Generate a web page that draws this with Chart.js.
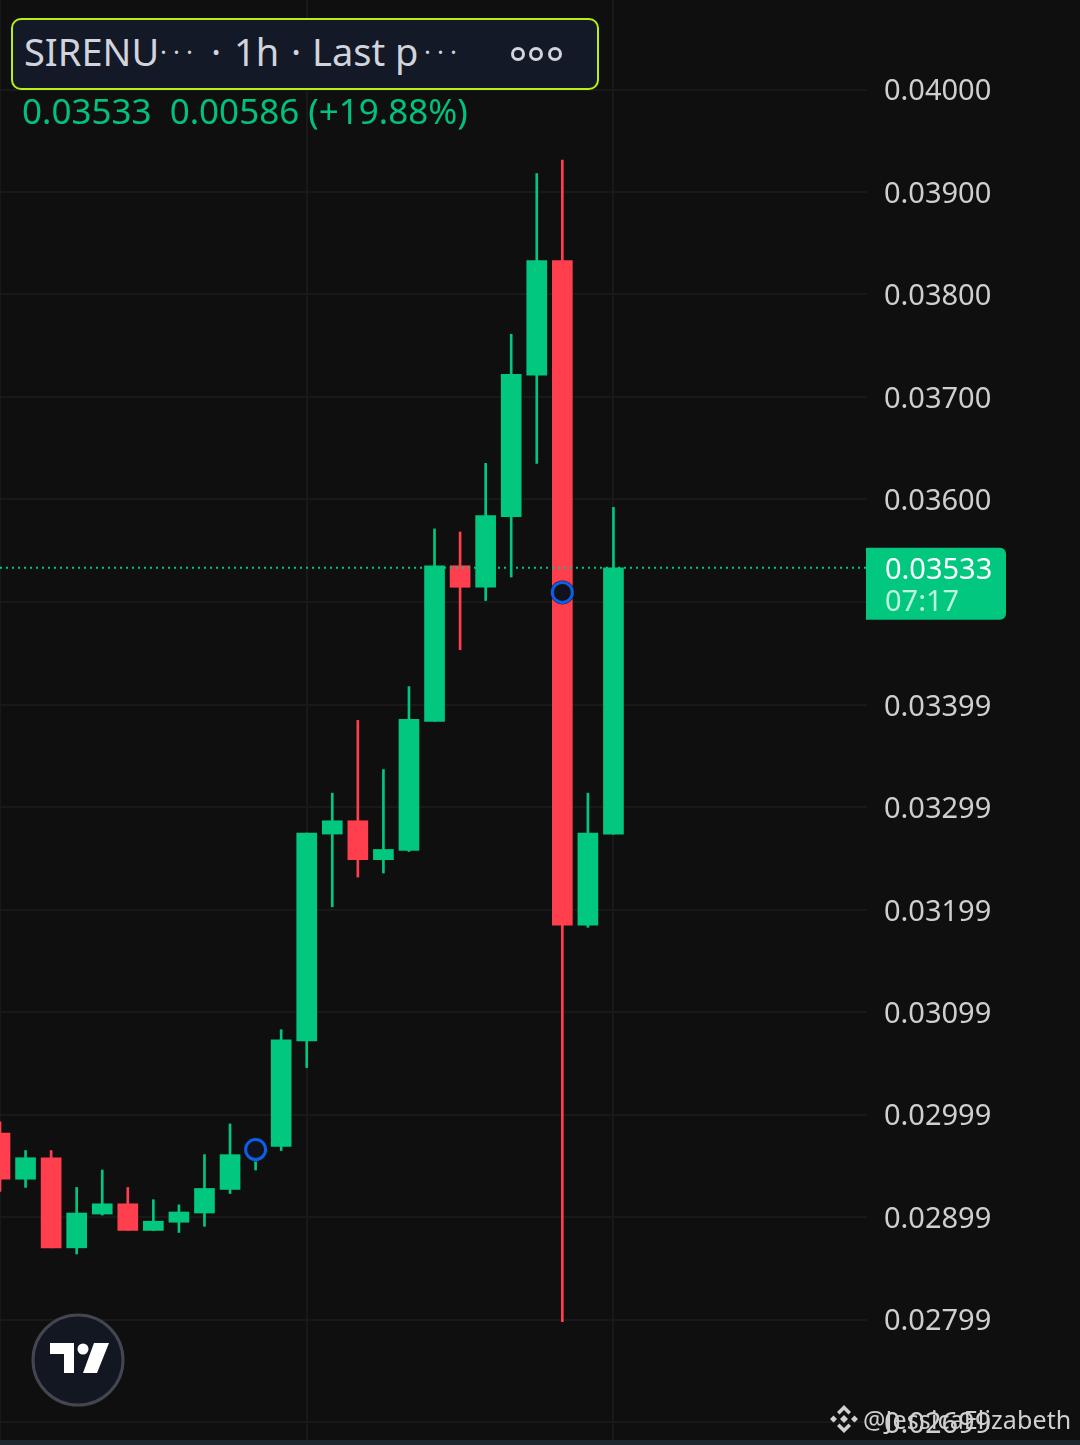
<!DOCTYPE html>
<html lang="en">
<head>
  <meta charset="UTF-8" />
  <title>SIRENUSDT 1h</title>
  <script src="https://cdn.jsdelivr.net/npm/chart.js"></script>
  <style>
    html, body { margin: 0; background: #0f0f0f; }
    body { width: 1080px; height: 1445px; position: relative; overflow: hidden; font-family: "Noto Sans", sans-serif; }
    canvas { position: absolute; left: 0; top: 0; }
    .legend-box { position: absolute; left: 11px; top: 18px; width: 584px; height: 68px; border: 2px solid #b9f014; border-radius: 10px; background: #131926; }
    .legend-box span { position: absolute; top: 5px; font-size: 38px; line-height: 52px; color: #d1d4dc; white-space: nowrap; }
    .legend-box span.more { font-size: 26px; top: 5px; letter-spacing: 6px; }
    .legend-box i { position: absolute; top: 27px; width: 8px; height: 8px; border: 3px solid #d1d4dc; border-radius: 50%; }
    .values { position: absolute; left: 22px; top: 88px; font-size: 35px; line-height: 46px; color: #00c27c; white-space: pre; }
    .logo { position: absolute; left: 31px; top: 1313px; }
    .strip { position: absolute; left: 0; top: 1440px; width: 1080px; height: 5px; background: #1f262d; }
    .mark { position: absolute; left: 830px; top: 1405px; }
    .credit { position: absolute; left: 863px; top: 1400px; font-size: 25px; letter-spacing: 0.12px; line-height: 38px; color: #d0d0d0; white-space: nowrap; }
  </style>
</head>
<body>
  <canvas id="chart" width="1080" height="1445"></canvas>

  <div class="legend-box">
    <span style="left:11px">SIRENU</span><span class="more" style="left:147px">···</span>
    <span style="left:198px">·</span><span style="left:221px">1h</span>
    <span style="left:278px">·</span><span style="left:299px">Last p</span><span class="more" style="left:411px">···</span>
    <i style="left:498px"></i><i style="left:516px"></i><i style="left:535px"></i>
  </div>
  <div class="values">0.03533  0.00586 (+19.88%)</div>

  <svg class="logo" width="94" height="94" viewBox="0 0 94 94">
    <circle cx="47" cy="47" r="45" fill="#131722" stroke="#43464e" stroke-width="3"/>
    <path d="M19 30H43V60H33V41H19Z M63 30H78L66 60H52Z" fill="#fff"/>
    <circle cx="52" cy="36" r="5.5" fill="#fff"/>
  </svg>

  <div class="strip"></div>
  <svg class="mark" width="28" height="28" viewBox="0 0 28 28" fill="#d0d0d0">
    <path d="M14 0l7 7-2.5 2.5L14 5 9.5 9.5 7 7z M14 28l7-7-2.5-2.5L14 23l-4.500-4.500L7 21z M0 14l3.500-3.500L7 14l-3.500 3.500z M21 14l3.500-3.500L28 14l-3.500 3.500z M14 10l4 4-4 4-4-4z"/>
  </svg>
  <div class="credit">@JessicaElizabeth</div>

  <script>
    // prices, oldest candle first
    const candleIndex = [0, 1, 2, 3, 4, 5, 6, 7, 8, 9, 10, 11, 12, 13, 14, 15, 16, 17, 18, 19, 20, 21, 22, 23, 24];
    const opens  = [0.02981, 0.02936, 0.02957, 0.02869, 0.02902, 0.02912, 0.02886, 0.02894, 0.02903, 0.02926, 0.02963, 0.02968, 0.03071, 0.03273, 0.03286, 0.03248, 0.03257, 0.03383, 0.03535, 0.03514, 0.03583, 0.03721, 0.03833, 0.03184, 0.03273];
    const closes = [0.02936, 0.02957, 0.02869, 0.02903, 0.02912, 0.02886, 0.02895, 0.02904, 0.02927, 0.02960, 0.02967, 0.03072, 0.03274, 0.03286, 0.03248, 0.03258, 0.03385, 0.03535, 0.03514, 0.03584, 0.03722, 0.03833, 0.03184, 0.03274, 0.03533];
    const highs  = [0.02992, 0.02964, 0.02964, 0.02928, 0.02945, 0.02928, 0.02916, 0.02911, 0.02960, 0.02990, 0.02972, 0.03082, 0.03274, 0.03313, 0.03384, 0.03336, 0.03417, 0.03571, 0.03568, 0.03635, 0.03761, 0.03918, 0.03931, 0.03313, 0.03592];
    const lows   = [0.02924, 0.02928, 0.02869, 0.02863, 0.02901, 0.02886, 0.02886, 0.02884, 0.02890, 0.02922, 0.02945, 0.02964, 0.03045, 0.03202, 0.03231, 0.03235, 0.03256, 0.03383, 0.03453, 0.03501, 0.03524, 0.03635, 0.02797, 0.03182, 0.03273];

    const tickValues = [0.04, 0.039, 0.038, 0.037, 0.036, 0.035, 0.03399, 0.03299, 0.03199, 0.03099, 0.02999, 0.02899, 0.02799, 0.02699];
    const timeGridAt = [0, 12, 24];

    const markerIndex = [10, 22];
    const markerPrice = [0.02965, 0.03509];

    const lastPrice = 0.03533;
    const countdown = '07:17';

    const GREEN = '#02c77e';
    const RED = '#ff3f4d';
    const GRID = '#191919';
    const BLUE = '#0b5fe8';

    const candleColor = opens.map((o, i) => closes[i] >= o ? GREEN : RED);

    // price tag sits on the axis at the last price
    const priceTag = {
      id: 'priceTag',
      afterDraw(chart) {
        const c = chart.ctx;
        const y = chart.scales.y.getPixelForValue(lastPrice);
        const left = chart.chartArea.right - 1;
        c.save();
        c.fillStyle = GREEN;
        c.beginPath();
        c.roundRect(left, y - 20, 140, 72, [0, 6, 6, 0]);
        c.fill();
        c.textBaseline = 'middle';
        c.textAlign = 'left';
        c.font = '29px "Noto Sans"';
        c.fillStyle = '#ffffff';
        c.fillText(lastPrice.toFixed(5), left + 19, y + 3);
        c.fillStyle = '#bdf2dc';
        c.fillText(countdown, left + 19, y + 35);
        c.restore();
      }
    };

    new Chart(document.getElementById('chart'), {
      type: 'bar',
      data: {
        datasets: [
          {
            label: 'wick',
            order: 4,
            grouped: false,
            barThickness: 2,
            backgroundColor: candleColor,
            data: candleIndex.map(i => ({ x: i, y: [lows[i], highs[i]] }))
          },
          {
            label: 'body',
            order: 3,
            grouped: false,
            barThickness: 20,
            backgroundColor: candleColor,
            data: candleIndex.map(i => ({ x: i, y: [opens[i], closes[i]] }))
          },
          {
            type: 'line',
            label: 'last',
            order: 2,
            borderColor: GREEN,
            borderWidth: 2,
            borderDash: [2, 4],
            pointRadius: 0,
            data: [{ x: 0, y: lastPrice }, { x: 34, y: lastPrice }]
          },
          {
            type: 'scatter',
            label: 'halo',
            order: 1,
            pointRadius: 12,
            pointBackgroundColor: '#10131c',
            pointBorderWidth: 0,
            data: markerIndex.map((x, i) => ({ x, y: markerPrice[i] }))
          },
          {
            type: 'scatter',
            label: 'marker',
            order: 0,
            pointRadius: 10,
            pointBackgroundColor: '#10131c',
            pointBorderColor: BLUE,
            pointBorderWidth: 3,
            data: markerIndex.map((x, i) => ({ x, y: markerPrice[i] }))
          }
        ]
      },
      options: {
        responsive: false,
        animation: false,
        layout: { padding: 0, autoPadding: false },
        plugins: { legend: { display: false }, tooltip: { enabled: false } },
        scales: {
          x: {
            type: 'linear',
            offset: false,
            min: 0,
            max: 33.92,
            afterBuildTicks: s => { s.ticks = timeGridAt.map(value => ({ value })); },
            afterFit: s => { s.height = 0; s.paddingLeft = 0; s.paddingRight = 0; },
            ticks: { display: false },
            border: { display: false },
            grid: { offset: false, color: GRID, lineWidth: 2, drawTicks: false }
          },
          y: {
            position: 'right',
            min: 0.026765,
            max: 0.040874,
            afterBuildTicks: s => { s.ticks = tickValues.map(value => ({ value })); },
            afterFit: s => { s.width = 213; s.paddingTop = 0; s.paddingBottom = 0; },
            ticks: {
              autoSkip: false,
              padding: 17,
              labelOffset: 2.5,
              color: '#cfcfcf',
              font: { family: '"Noto Sans"', size: 29 },
              callback: v => v.toFixed(5)
            },
            border: { display: false },
            grid: { color: GRID, lineWidth: 2, drawTicks: false }
          }
        }
      },
      plugins: [priceTag]
    });
  </script>
</body>
</html>
